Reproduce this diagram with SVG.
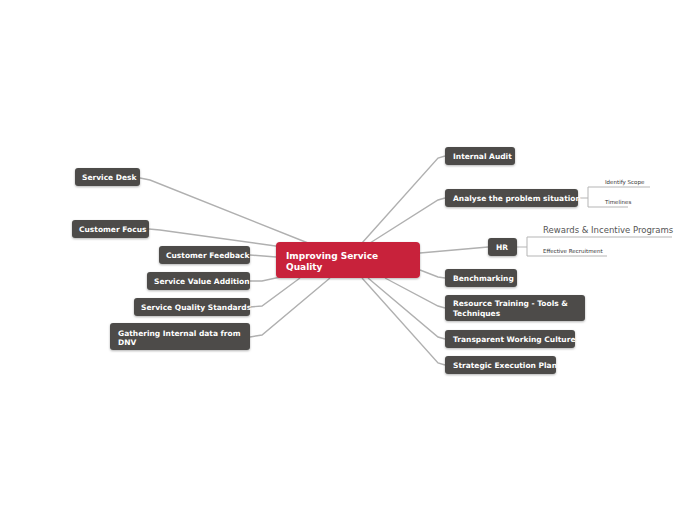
<svg xmlns="http://www.w3.org/2000/svg" width="697" height="520" viewBox="0 0 697 520">
<style>
.n{fill:#4d4c4a;filter:url(#sh)}
.t{font-family:"DejaVu Sans",Verdana,sans-serif;font-weight:bold;font-size:7.5px;fill:#fff}
.c{fill:none;stroke:#b0b0b0;stroke-width:1.4}
.s{font-family:"DejaVu Sans",Verdana,sans-serif;font-size:5.5px;fill:#333}
.u{stroke:#b5b5b5;stroke-width:1;fill:none}
</style>
<defs><filter id="sh" x="-10%" y="-20%" width="120%" height="150%"><feDropShadow dx="0" dy="1" stdDeviation="0.8" flood-opacity="0.3"/></filter></defs>
<rect width="697" height="520" fill="#fff"/>
<g id="connectors">
<path class="c" d="M308,243 L150,180 L140,178" stroke-width="2"/>
<path class="c" d="M290,248 L160,230 L149,229"/>
<path class="c" d="M276,257 L250,255"/>
<path class="c" d="M285,276 L262,281 L250,281"/>
<path class="c" d="M300,278 L262,306 L250,307"/>
<path class="c" d="M330,278 L262,335 L250,337"/>
<path class="c" d="M362,243 L438,158 L445,156" stroke-width="2"/>
<path class="c" d="M370,243 L438,200 L445,198"/>
<path class="c" d="M420,253 L488,247"/>
<path class="c" d="M420,270 L438,277 L445,278"/>
<path class="c" d="M385,278 L438,306 L445,308"/>
<path class="c" d="M368,278 L438,337 L445,339" stroke-width="2"/>
<path class="c" d="M362,278 L438,363 L445,365" stroke-width="2"/>
<path class="u" d="M578,198 H588 M588,187 V207 M588,187 H650 M588,207 H628"/>
<path class="u" d="M517,247 H527 M527,237 V256 M527,237 H672 M527,256 H607"/>
</g>
<g id="central"><rect x="276" y="242" width="144" height="36" rx="4" fill="#c8203a" filter="url(#sh)"/><text class="t" font-size="9" x="286" y="259" style="font-size:9px">Improving Service</text><text class="t" x="286" y="270" style="font-size:9px">Quality</text></g>
<g id="n1"><rect class="n" x="75" y="168" width="65" height="18" rx="3"/><text class="t" x="82" y="180">Service Desk</text></g>
<g id="n2"><rect class="n" x="72" y="220" width="77" height="18" rx="3"/><text class="t" x="79" y="232">Customer Focus</text></g>
<g id="n3"><rect class="n" x="159" y="246" width="91" height="18" rx="3"/><text class="t" x="166" y="258">Customer Feedback</text></g>
<g id="n4"><rect class="n" x="147" y="272" width="103" height="18" rx="3"/><text class="t" x="154" y="284">Service Value Addition</text></g>
<g id="n5"><rect class="n" x="134" y="298" width="116" height="18" rx="3"/><text class="t" x="141" y="310">Service Quality Standards</text></g>
<g id="n6"><rect class="n" x="110" y="323" width="140" height="27" rx="3"/><text class="t" x="118" y="336">Gathering Internal data from</text><text class="t" x="118" y="345">DNV</text></g>
<g id="n7"><rect class="n" x="445" y="147" width="70" height="18" rx="3"/><text class="t" x="453" y="159">Internal Audit</text></g>
<g id="n8"><rect class="n" x="445" y="189" width="133" height="18" rx="3"/><text class="t" x="453" y="201">Analyse the problem situation</text></g>
<g id="n9"><rect class="n" x="488" y="238" width="29" height="18" rx="3"/><text class="t" x="496" y="250">HR</text></g>
<g id="n10"><rect class="n" x="445" y="269" width="72" height="18" rx="3"/><text class="t" x="453" y="281">Benchmarking</text></g>
<g id="n11"><rect class="n" x="445" y="295" width="140" height="26" rx="3"/><text class="t" x="453" y="306">Resource Training  - Tools &amp;</text><text class="t" x="453" y="316">Techniques</text></g>
<g id="n12"><rect class="n" x="445" y="330" width="130" height="18" rx="3"/><text class="t" x="453" y="342">Transparent Working Culture</text></g>
<g id="n13"><rect class="n" x="445" y="356" width="111" height="18" rx="3"/><text class="t" x="453" y="368">Strategic Execution Plan</text></g>
<g id="sub"><text class="s" x="605" y="184">Identify Scope</text><text class="s" x="605" y="204">Timelines</text><text x="543" y="233" style="font-family:'DejaVu Sans',Verdana,sans-serif;font-size:8.5px;fill:#555">Rewards &amp; Incentive Programs</text><text class="s" x="543" y="253">Effective Recruitment</text></g>
</svg>
